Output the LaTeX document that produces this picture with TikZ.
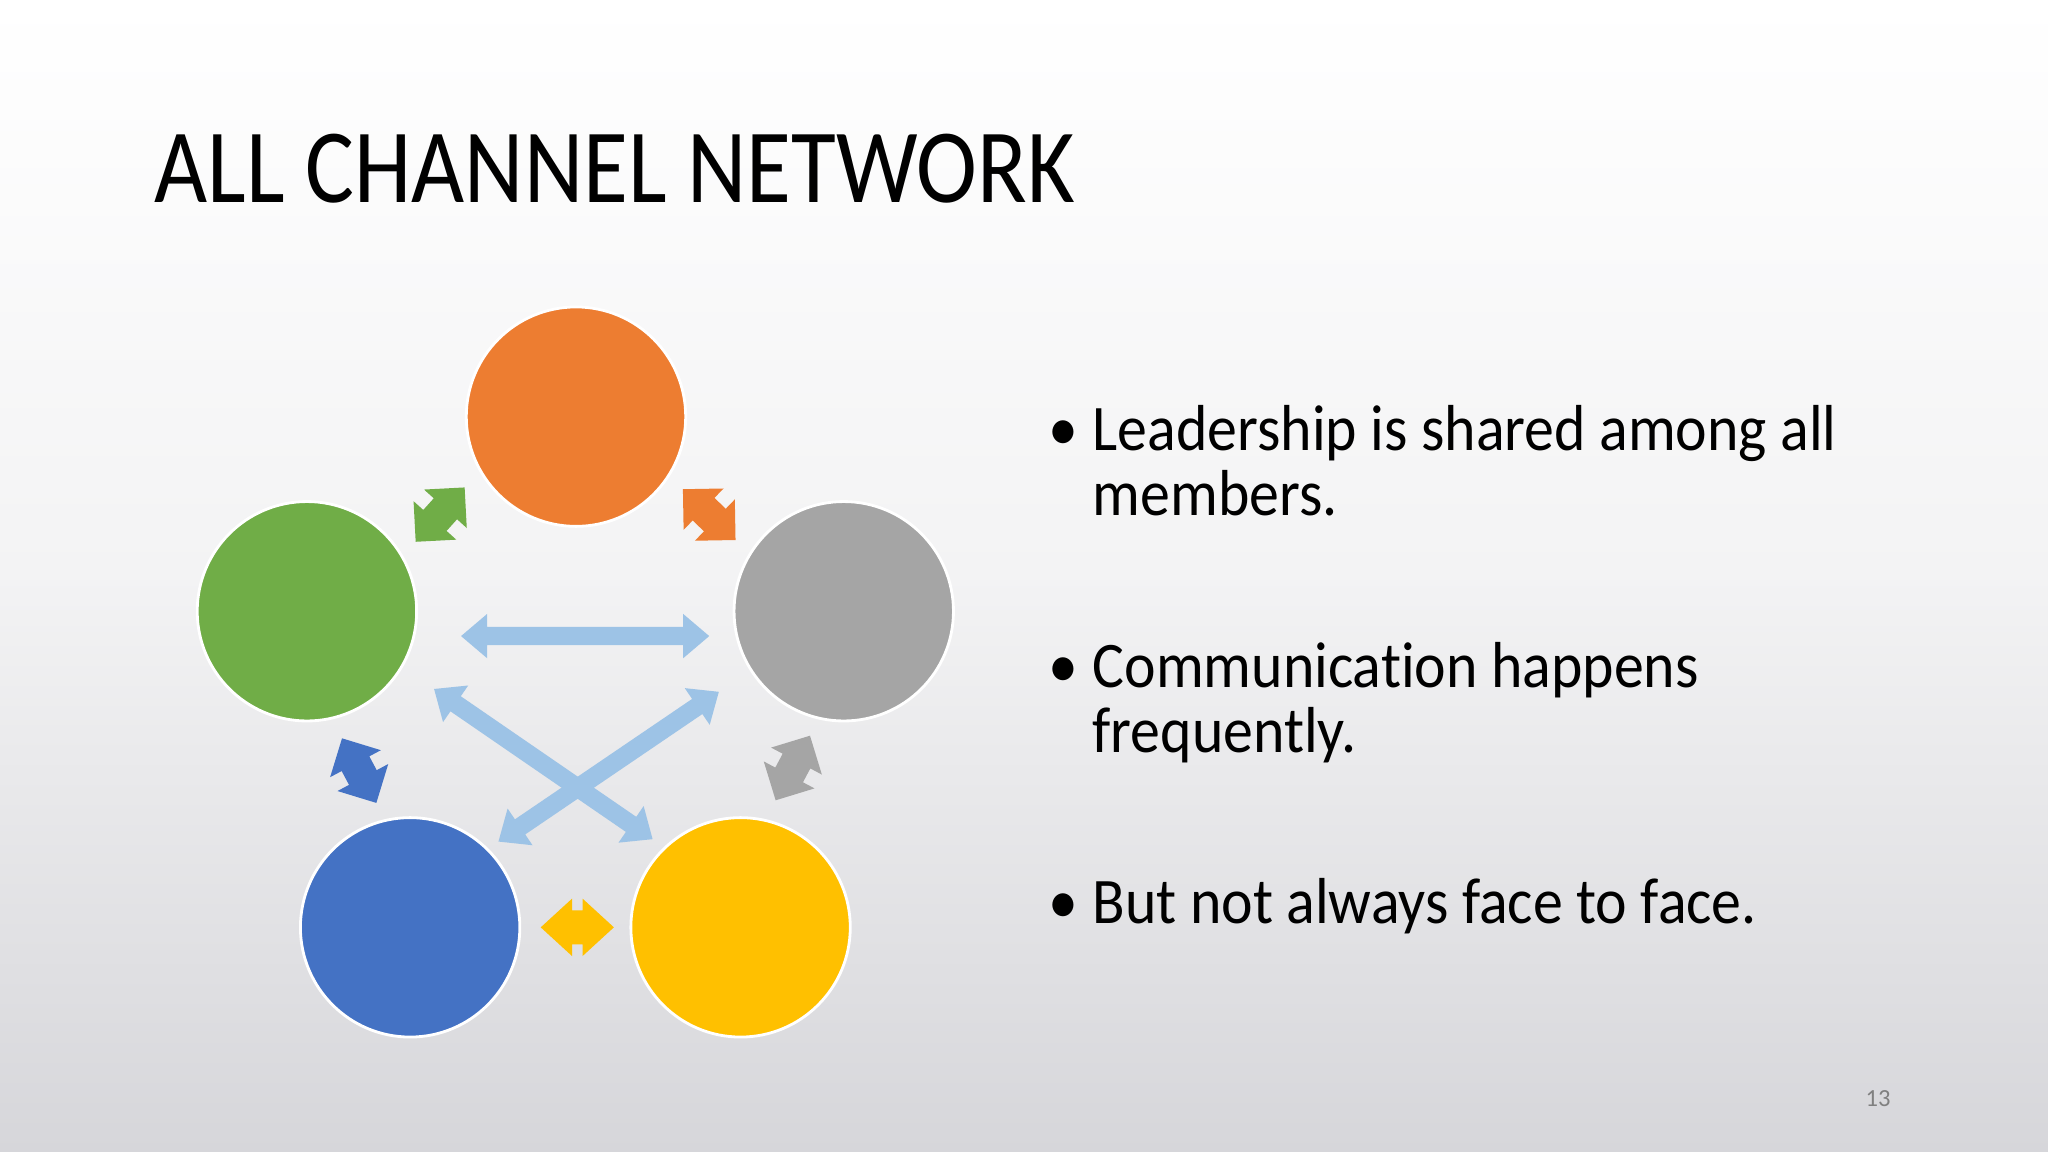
\documentclass[tikz,border=0pt]{standalone}
\usepackage{fontspec}
\setmainfont{Carlito}[RawFeature=-liga]
\newfontfamily\titlefont{Carlito}[FakeStretch=0.87]
\newfontfamily\bodyfont{Carlito}[FakeStretch=0.92,RawFeature=-liga]
\definecolor{corange}{HTML}{ED7D31}
\definecolor{cgreen}{HTML}{70AD47}
\definecolor{cgray}{HTML}{A5A5A5}
\definecolor{cblue}{HTML}{4472C4}
\definecolor{cyellow}{HTML}{FFC000}
\definecolor{clight}{HTML}{9DC3E6}
\definecolor{bgbot}{RGB}{214,214,218}
\newcommand{\dblarrow}[8]{%
 \begin{scope}[shift={(#1,#2)},rotate=#3]
 \fill[#8] (-#4/2,0) -- (-#4/2+#7,#5) -- (-#4/2+#7,#6) -- (#4/2-#7,#6) -- (#4/2-#7,#5) -- (#4/2,0) -- (#4/2-#7,-#5) -- (#4/2-#7,-#6) -- (-#4/2+#7,-#6) -- (-#4/2+#7,-#5) -- cycle;
 \end{scope}}
\begin{document}
\begin{tikzpicture}[x=0.013061cm,y=-0.013061cm,
  ball/.style={circle,draw=white,line width=0.8pt,minimum size=168*0.013061cm,inner sep=0pt},
  bullet/.style={anchor=base west,align=left,font=\bodyfont\fontsize{18.5}{18.5}\selectfont,inner sep=0pt}]
\shade[top color=white,bottom color=bgbot,middle color={rgb,255:red,243;green,243;blue,244}] (0,0) rectangle (1568,882);
\useasboundingbox (0,0) rectangle (1568,882);
\node[anchor=base west,inner sep=0pt,font=\titlefont\fontsize{30}{30}\selectfont] (title) at (118,155) {ALL CHANNEL NETWORK};
\node[ball,fill=corange] (o) at (441,319) {};
\node[ball,fill=cgreen] (g) at (235,468) {};
\node[ball,fill=cgray] (r) at (646,468) {};
\node[ball,fill=cblue] (b) at (314,710) {};
\node[ball,fill=cyellow] (y) at (567,710) {};
\dblarrow{337}{394}{48}{56}{22}{12}{22}{cgreen}
\dblarrow{543}{394}{-44}{56}{22}{12}{22}{corange}
\dblarrow{607}{588}{62}{56}{22}{12}{22}{cgray}
\dblarrow{275}{590}{-62}{56}{22}{12}{22}{cblue}
\dblarrow{442}{710}{0}{56}{22}{13}{24}{cyellow}
\dblarrow{448}{487}{0}{190}{17}{7}{20}{clight}
\dblarrow{416}{585}{-34.5}{203}{17}{7}{20}{clight}
\dblarrow{466}{587}{34.2}{204}{17}{7}{20}{clight}
\node[bullet,anchor=base] (d1) at (814,345) {•};
\node[bullet] (t1) at (836,345) {Leadership is shared among all};
\node[bullet] (t1b) at (836,395) {members.};
\node[bullet,anchor=base] (d2) at (814,526) {•};
\node[bullet] (t2) at (836,526) {Communication happens};
\node[bullet] (t2b) at (836,576) {frequently.};
\node[bullet,anchor=base] (d3) at (814,707) {•};
\node[bullet] (t3) at (836,707) {But not always face to face.};
\node[anchor=base,inner sep=0pt,font=\fontsize{7}{7}\selectfont,text=gray] (pg) at (1438,847) {13};
\end{tikzpicture}
\end{document}
